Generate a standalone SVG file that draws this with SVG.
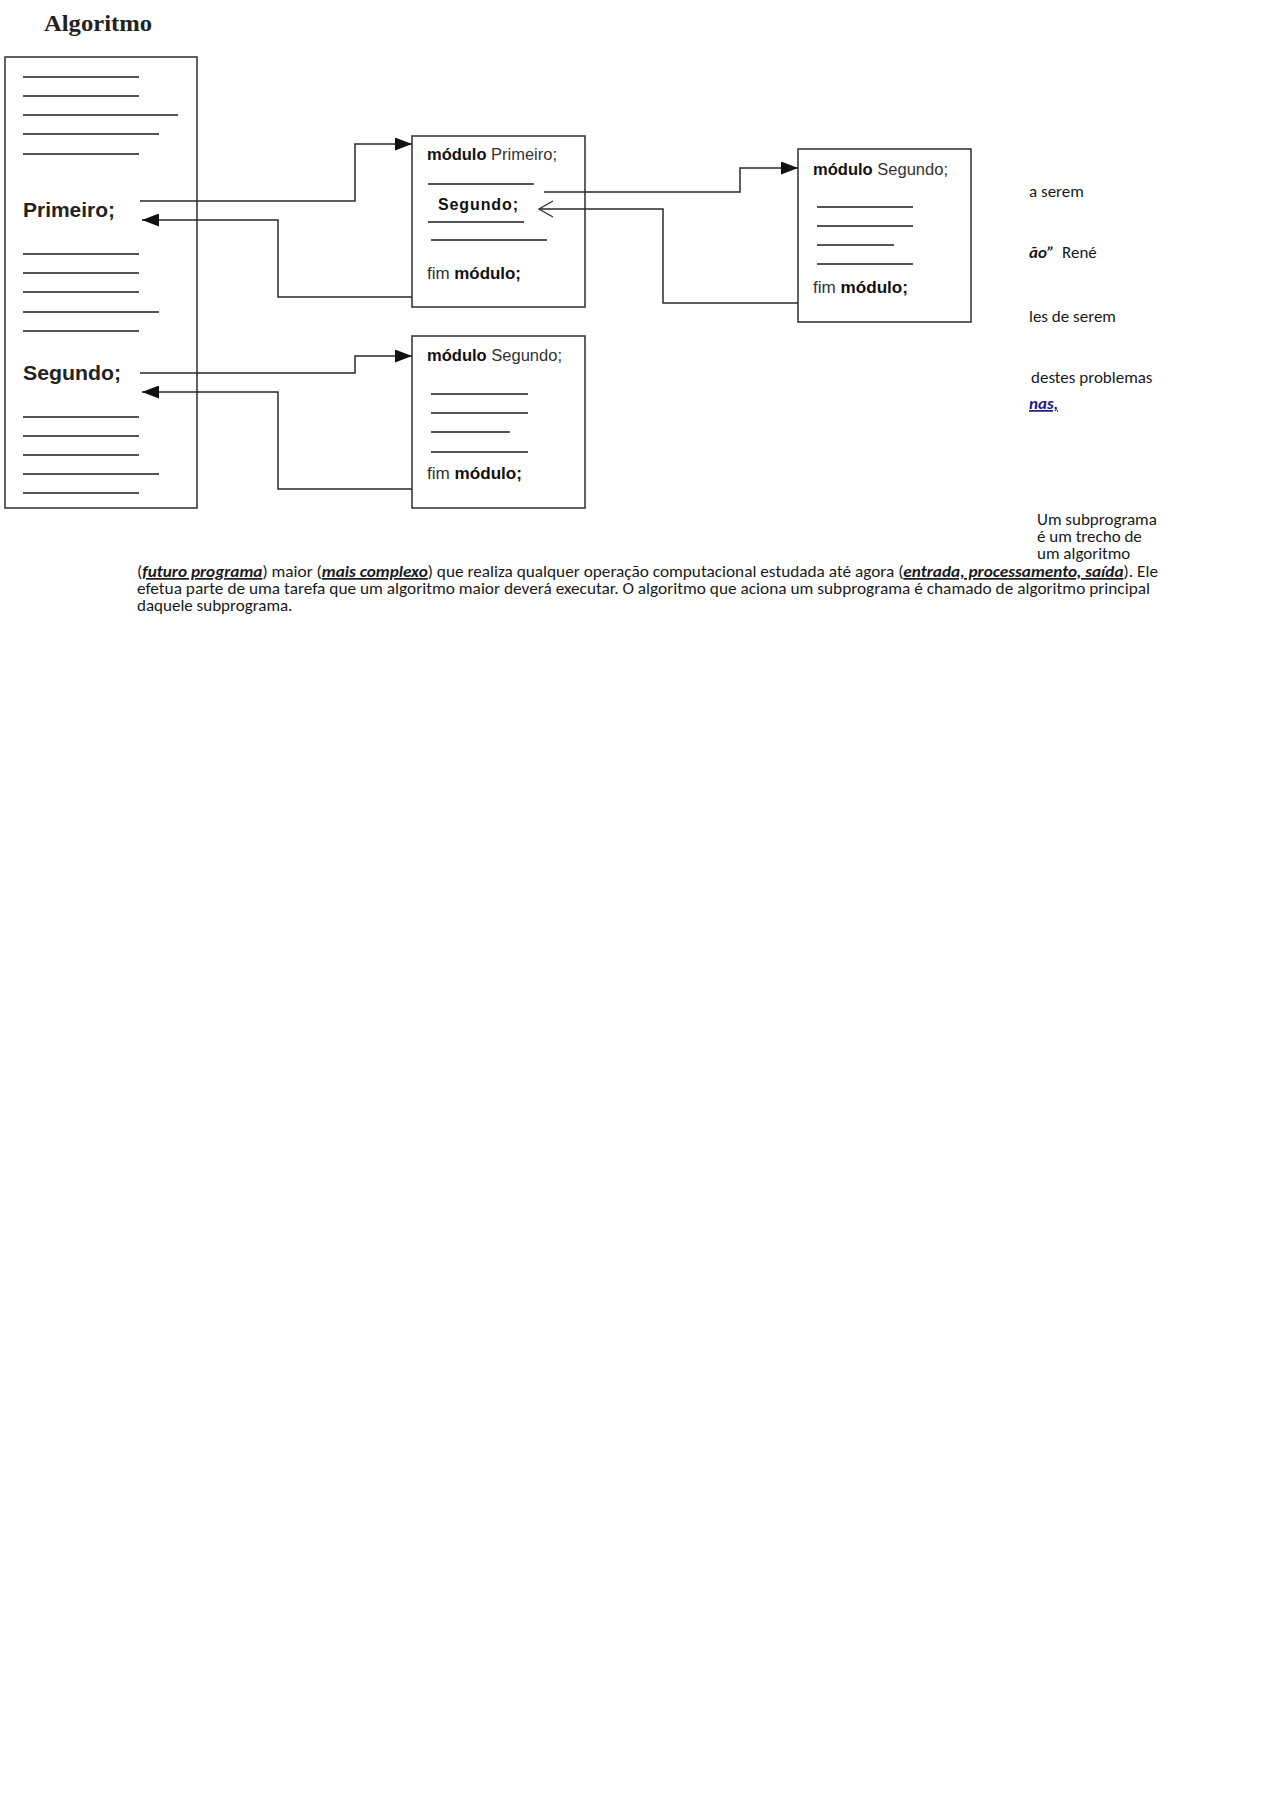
<svg xmlns="http://www.w3.org/2000/svg" width="1280" height="1811" viewBox="0 0 1280 1811">
<style>
.box{fill:#fff;stroke:#3a3a3a;stroke-width:1.6}
.ln{stroke:#555;stroke-width:2.2}
.con{fill:none;stroke:#2a2a2a;stroke-width:1.5}
.mod{font-family:"Liberation Sans",Arial,sans-serif;font-size:16px;fill:#111}
.mod .n{fill:#333;font-weight:normal}
.b{font-weight:bold}
.call{font-family:"Liberation Sans",Arial,sans-serif;font-weight:bold;font-size:21px;fill:#222}
.para{font-family:Carlito,Lato,"Open Sans",sans-serif;font-size:17px;fill:#1a1a1a}
.bi{font-weight:bold;font-style:italic;text-decoration:underline}
.link{fill:#1a1a8c}
</style>
<defs>
<marker id="fa" viewBox="0 0 17 13" refX="17" refY="6.5" markerWidth="17" markerHeight="13" markerUnits="userSpaceOnUse" orient="auto">
<path d="M0,0 L17,6.5 L0,13 Z" fill="#111"/>
</marker>
<marker id="oa" viewBox="0 0 16 18" refX="15" refY="9" markerWidth="16" markerHeight="18" markerUnits="userSpaceOnUse" orient="auto">
<path d="M1,1 L15,9 L1,17" fill="none" stroke="#333" stroke-width="1.4"/>
</marker>
</defs>
<rect width="1280" height="1811" fill="#fff"/>

<text x="44" y="31" font-family="'Liberation Serif','Times New Roman',serif" font-weight="bold" font-size="24" fill="#222" textLength="108" lengthAdjust="spacingAndGlyphs">Algoritmo</text>

<g id="algoritmo">
<rect class="box" x="5" y="57" width="192" height="451"/>
<line class="ln" x1="23" y1="77" x2="139" y2="77"/>
<line class="ln" x1="23" y1="96" x2="139" y2="96"/>
<line class="ln" x1="23" y1="115" x2="178" y2="115"/>
<line class="ln" x1="23" y1="134" x2="159" y2="134"/>
<line class="ln" x1="23" y1="154" x2="139" y2="154"/>
<text class="call" x="23" y="217" textLength="92" lengthAdjust="spacingAndGlyphs">Primeiro;</text>
<line class="ln" x1="23" y1="254" x2="139" y2="254"/>
<line class="ln" x1="23" y1="273" x2="139" y2="273"/>
<line class="ln" x1="23" y1="292" x2="139" y2="292"/>
<line class="ln" x1="23" y1="312" x2="159" y2="312"/>
<line class="ln" x1="23" y1="331" x2="139" y2="331"/>
<text class="call" x="23" y="380" textLength="98" lengthAdjust="spacingAndGlyphs">Segundo;</text>
<line class="ln" x1="23" y1="417" x2="139" y2="417"/>
<line class="ln" x1="23" y1="436" x2="139" y2="436"/>
<line class="ln" x1="23" y1="455" x2="139" y2="455"/>
<line class="ln" x1="23" y1="474" x2="159" y2="474"/>
<line class="ln" x1="23" y1="493" x2="139" y2="493"/>
</g>

<g id="modulo-primeiro">
<rect class="box" x="412" y="136" width="173" height="171"/>
<text class="mod" x="427" y="160" textLength="130" lengthAdjust="spacingAndGlyphs"><tspan class="b">módulo</tspan> <tspan class="n">Primeiro;</tspan></text>
<line class="ln" x1="428" y1="184" x2="534" y2="184"/>
<text class="mod b" x="438" y="210" textLength="80" lengthAdjust="spacing" font-size="15">Segundo;</text>
<line class="ln" x1="428" y1="222" x2="524" y2="222"/>
<line class="ln" x1="431" y1="240" x2="547" y2="240"/>
<text class="mod" x="427" y="279" textLength="94" lengthAdjust="spacingAndGlyphs"><tspan class="n">fim</tspan> <tspan class="b">módulo;</tspan></text>
</g>

<g id="modulo-segundo-a">
<rect class="box" x="798" y="149" width="173" height="173"/>
<text class="mod" x="813" y="175" textLength="135" lengthAdjust="spacingAndGlyphs"><tspan class="b">módulo</tspan> <tspan class="n">Segundo;</tspan></text>
<line class="ln" x1="817" y1="207" x2="913" y2="207"/>
<line class="ln" x1="817" y1="226" x2="913" y2="226"/>
<line class="ln" x1="817" y1="245" x2="894" y2="245"/>
<line class="ln" x1="817" y1="264" x2="913" y2="264"/>
<text class="mod" x="813" y="293" textLength="95" lengthAdjust="spacingAndGlyphs"><tspan class="n">fim</tspan> <tspan class="b">módulo;</tspan></text>
</g>

<g id="modulo-segundo-b">
<rect class="box" x="412" y="336" width="173" height="172"/>
<text class="mod" x="427" y="361" textLength="135" lengthAdjust="spacingAndGlyphs"><tspan class="b">módulo</tspan> <tspan class="n">Segundo;</tspan></text>
<line class="ln" x1="431" y1="394" x2="528" y2="394"/>
<line class="ln" x1="431" y1="413" x2="528" y2="413"/>
<line class="ln" x1="431" y1="432" x2="510" y2="432"/>
<line class="ln" x1="431" y1="452" x2="528" y2="452"/>
<text class="mod" x="427" y="479" textLength="95" lengthAdjust="spacingAndGlyphs"><tspan class="n">fim</tspan> <tspan class="b">módulo;</tspan></text>
</g>

<g id="connectors">
<polyline class="con" points="140,201 355,201 355,144 412,144" marker-end="url(#fa)"/>
<polyline class="con" points="412,297 278,297 278,220 142,220" marker-end="url(#fa)"/>
<polyline class="con" points="140,373 355,373 355,356 412,356" marker-end="url(#fa)"/>
<polyline class="con" points="412,489 278,489 278,392 142,392" marker-end="url(#fa)"/>
<polyline class="con" points="544,192 740,192 740,168 798,168" marker-end="url(#fa)"/>
<polyline class="con" points="798,303 663,303 663,209 539,209" marker-end="url(#oa)"/>
</g>

<g id="text-fragments" class="para">
<text x="1029" y="197">a serem</text>
<text x="1029" y="258"><tspan font-weight="bold" font-style="italic">ão”</tspan><tspan x="1062">René</tspan></text>
<text x="1029" y="322">les de serem</text>
<text x="1031" y="383">destes problemas</text>
<text x="1029" y="409" class="bi link">nas, </text>
</g>

<g id="paragraph" class="para">
<text x="1037" y="525">Um subprograma</text>
<text x="1037" y="542">é um trecho de</text>
<text x="1037" y="559">um algoritmo</text>
<text x="137" y="577" textLength="1021" lengthAdjust="spacingAndGlyphs">(<tspan class="bi">futuro programa</tspan>) maior (<tspan class="bi">mais complexo</tspan>) que realiza qualquer operação computacional estudada até agora (<tspan class="bi">entrada, processamento, saída</tspan>).  Ele</text>
<text x="137" y="594" textLength="1013" lengthAdjust="spacingAndGlyphs">efetua parte de uma tarefa que um algoritmo maior deverá executar.  O algoritmo que aciona um subprograma é chamado de algoritmo principal</text>
<text x="137" y="611">daquele subprograma.</text>
</g>
</svg>
